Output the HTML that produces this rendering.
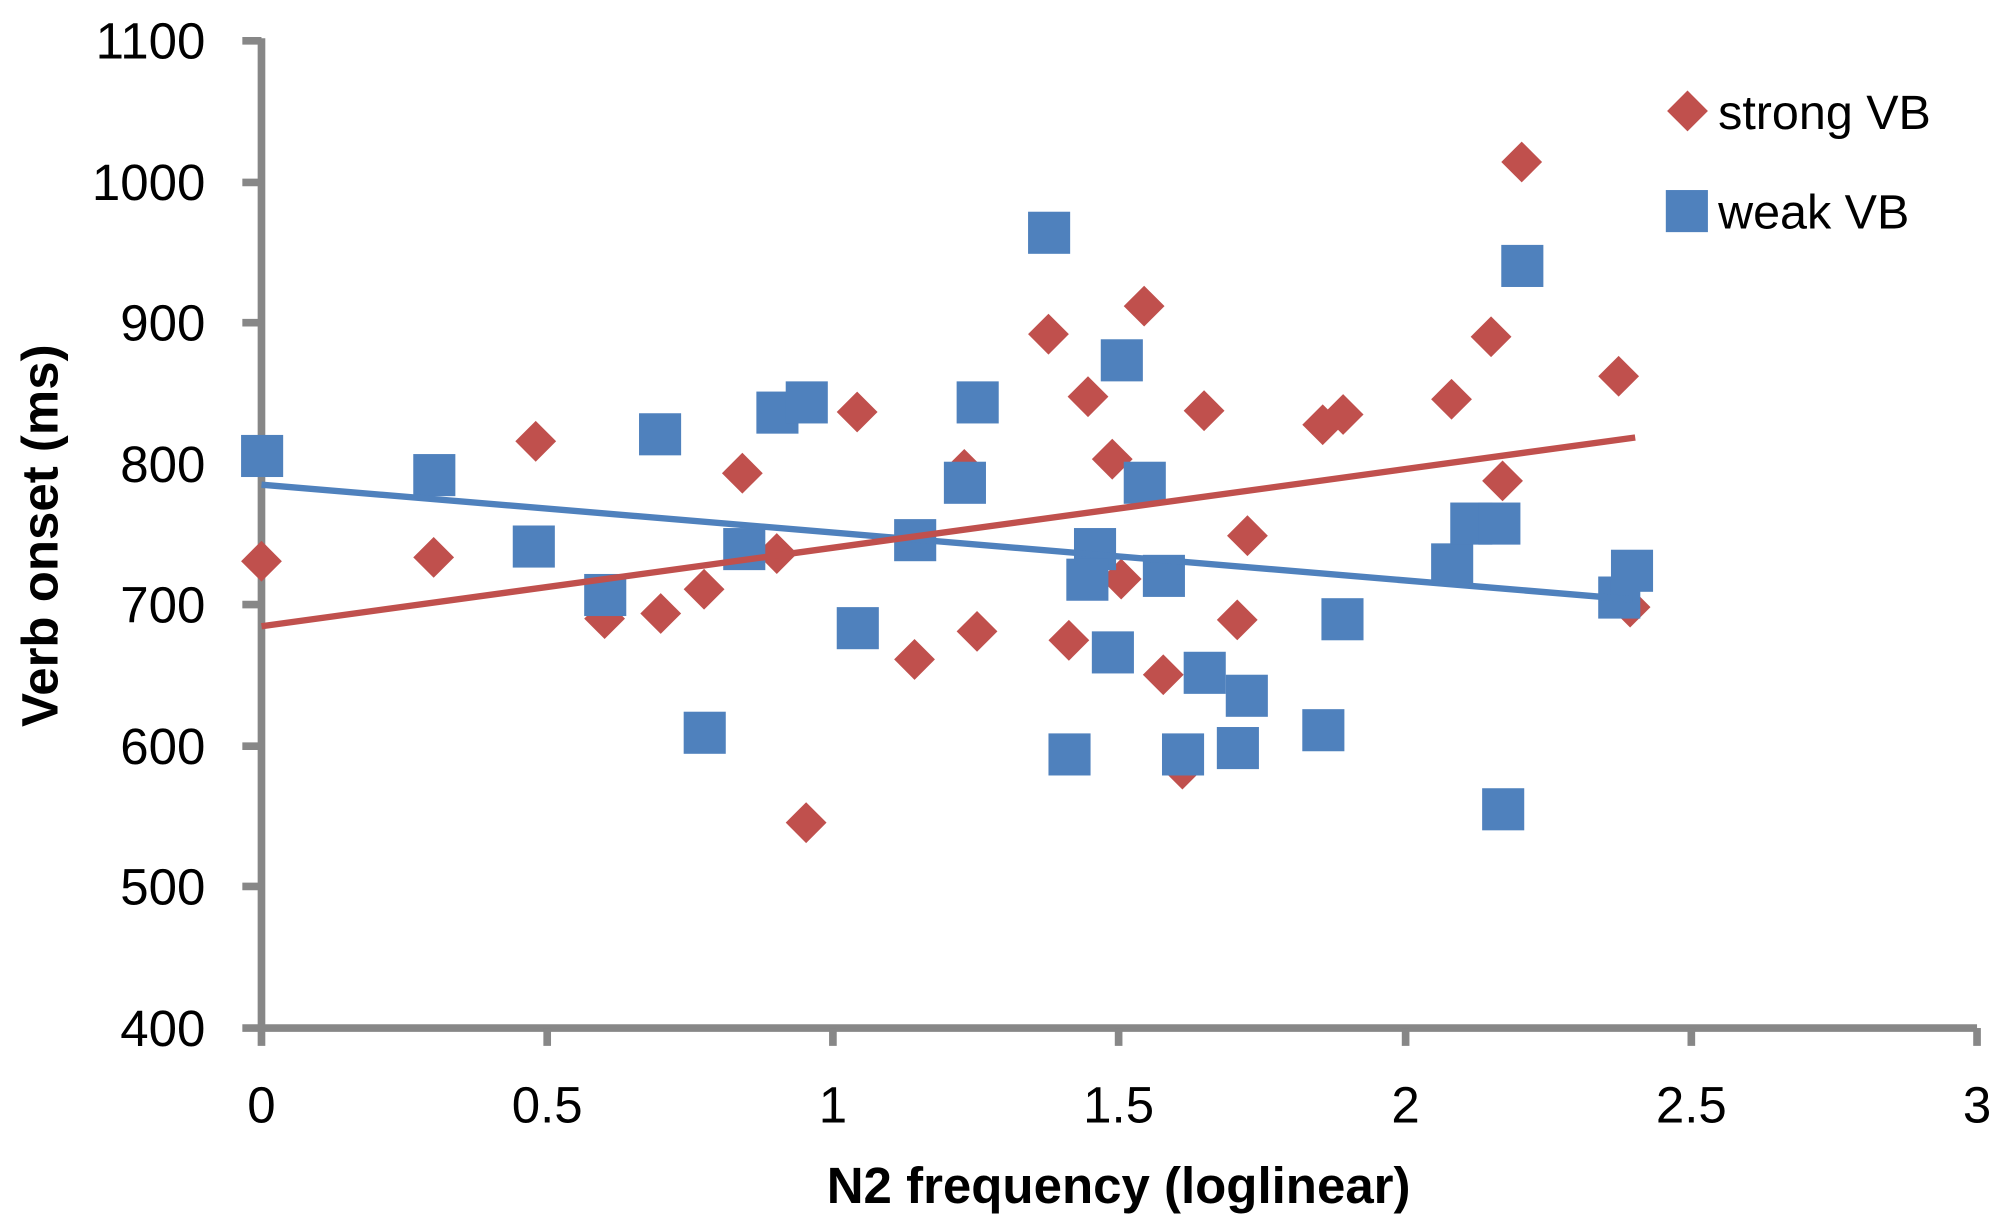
<!DOCTYPE html>
<html><head><meta charset="utf-8"><style>html,body{margin:0;padding:0;background:#fff}svg{display:block}</style></head>
<body>
<svg width="2000" height="1227" viewBox="0 0 1568 962" preserveAspectRatio="none" xmlns="http://www.w3.org/2000/svg">
<defs>
<g id="d"><polygon points="0,-16 16,0 0,16 -16,0" fill="#c0504d"/></g>
<g id="s"><rect x="-16" y="-16" width="33" height="33" fill="#4f81bd"/></g>
</defs>
<g stroke="#878787" stroke-width="6" fill="none">
<line x1="205" y1="30" x2="205" y2="820"/>
<line x1="190" y1="806" x2="1550" y2="806"/>
<line x1="190" y1="32" x2="205" y2="32"/><line x1="190" y1="143" x2="205" y2="143"/><line x1="190" y1="253" x2="205" y2="253"/><line x1="190" y1="364" x2="205" y2="364"/><line x1="190" y1="474" x2="205" y2="474"/><line x1="190" y1="585" x2="205" y2="585"/><line x1="190" y1="695" x2="205" y2="695"/>
<line x1="429" y1="806" x2="429" y2="820"/><line x1="653" y1="806" x2="653" y2="820"/><line x1="877" y1="806" x2="877" y2="820"/><line x1="1102" y1="806" x2="1102" y2="820"/><line x1="1326" y1="806" x2="1326" y2="820"/><line x1="1550" y1="806" x2="1550" y2="820"/>
</g>
<g font-family="Liberation Sans, sans-serif" font-size="40" fill="#000" text-anchor="end">
<text x="161" y="46">1100</text><text x="161" y="157">1000</text><text x="161" y="267">900</text><text x="161" y="378">800</text><text x="161" y="488">700</text><text x="161" y="599">600</text><text x="161" y="709">500</text><text x="161" y="820">400</text>
</g>
<g font-family="Liberation Sans, sans-serif" font-size="40" fill="#000" text-anchor="middle">
<text x="205" y="880">0</text><text x="429" y="880">0.5</text><text x="653" y="880">1</text><text x="877" y="880">1.5</text><text x="1102" y="880">2</text><text x="1326" y="880">2.5</text><text x="1550" y="880">3</text>
</g>
<text x="877" y="943" font-family="Liberation Sans, sans-serif" font-size="40" font-weight="bold" text-anchor="middle">N2 frequency (loglinear)</text>
<text transform="translate(45,420) rotate(-90)" font-family="Liberation Sans, sans-serif" font-size="40" font-weight="bold" text-anchor="middle">Verb onset (ms)</text>
<g>
<use href="#d" x="205" y="440"/><use href="#d" x="340" y="437"/><use href="#d" x="420" y="346"/><use href="#d" x="474" y="485"/><use href="#d" x="518" y="481"/><use href="#d" x="552" y="462"/><use href="#d" x="582" y="371"/><use href="#d" x="609" y="434"/><use href="#d" x="632" y="645"/><use href="#d" x="672" y="323"/><use href="#d" x="717" y="517"/><use href="#d" x="756" y="368"/><use href="#d" x="766" y="495"/><use href="#d" x="822" y="262"/><use href="#d" x="853" y="311"/><use href="#d" x="838" y="502"/><use href="#d" x="872" y="360"/><use href="#d" x="879" y="454"/><use href="#d" x="897" y="240"/><use href="#d" x="912" y="529"/><use href="#d" x="944" y="322"/><use href="#d" x="970" y="486"/><use href="#d" x="978" y="420"/><use href="#d" x="1037" y="333"/><use href="#d" x="1053" y="325"/><use href="#d" x="1138" y="313"/><use href="#d" x="1169" y="264"/><use href="#d" x="1178" y="377"/><use href="#d" x="1193" y="127"/><use href="#d" x="1269" y="295"/><use href="#d" x="1278" y="476"/><use href="#d" x="927" y="603"/>
</g>
<g>
<use href="#s" x="205" y="357"/><use href="#s" x="340" y="372"/><use href="#s" x="418" y="428"/><use href="#s" x="474" y="466"/><use href="#s" x="517" y="340"/><use href="#s" x="552" y="574"/><use href="#s" x="583" y="430"/><use href="#s" x="609" y="323"/><use href="#s" x="632" y="315"/><use href="#s" x="672" y="492"/><use href="#s" x="717" y="423"/><use href="#s" x="756" y="378"/><use href="#s" x="766" y="315"/><use href="#s" x="822" y="182"/><use href="#s" x="838" y="591"/><use href="#s" x="858" y="430"/><use href="#s" x="852" y="454"/><use href="#s" x="872" y="511"/><use href="#s" x="879" y="282"/><use href="#s" x="897" y="378"/><use href="#s" x="912" y="451"/><use href="#s" x="927" y="591"/><use href="#s" x="944" y="527"/><use href="#s" x="970" y="586"/><use href="#s" x="977" y="545"/><use href="#s" x="1037" y="572"/><use href="#s" x="1052" y="485"/><use href="#s" x="1138" y="442"/><use href="#s" x="1153" y="410"/><use href="#s" x="1175" y="410"/><use href="#s" x="1178" y="634"/><use href="#s" x="1193" y="208"/><use href="#s" x="1269" y="468"/><use href="#s" x="1279" y="447"/>
</g>
<line x1="205" y1="380" x2="1280" y2="470" stroke="#4f81bd" stroke-width="5"/>
<line x1="205" y1="491" x2="1282" y2="343" stroke="#c0504d" stroke-width="5"/>
<use href="#d" x="1323" y="87"/>
<text x="1347" y="101" font-family="Liberation Sans, sans-serif" font-size="38">strong VB</text>
<use href="#s" x="1322" y="165"/>
<text x="1347" y="179" font-family="Liberation Sans, sans-serif" font-size="38">weak VB</text>
</svg>
</body></html>
